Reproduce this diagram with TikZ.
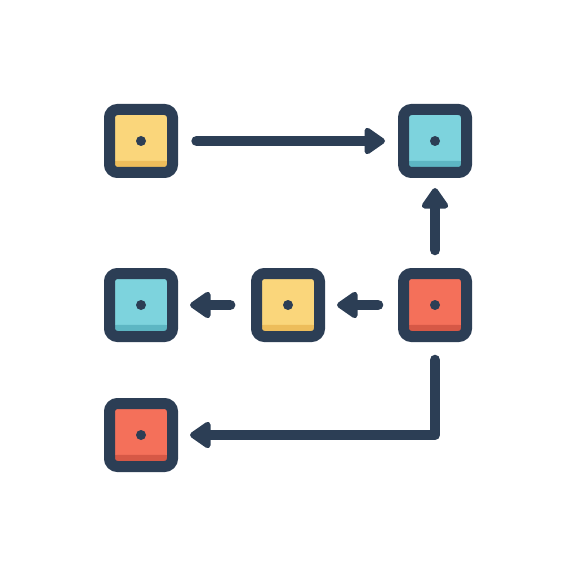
\documentclass[tikz,border=0pt]{standalone}
\usepackage{xcolor}
\usepackage{tikz}
\usetikzlibrary{arrows.meta,positioning}
\definecolor{navy}{HTML}{2C3E55}
\definecolor{yellow}{HTML}{FAD67B}
\definecolor{yellowdark}{HTML}{EDBD5B}
\definecolor{cyan}{HTML}{7DD3DD}
\definecolor{cyandark}{HTML}{5DB6C3}
\definecolor{red}{HTML}{F4705A}
\definecolor{reddark}{HTML}{D65846}
\tikzset{
  tile/.style={
    draw=navy, line width=3.85mm, rounded corners=2.8mm,
    minimum size=22.05mm, inner sep=0pt,
    path picture={
      \fill[#1dark] (path picture bounding box.south west) rectangle ([yshift=4.1mm]path picture bounding box.south east);
      \fill[navy] (path picture bounding box.center) circle (1.75mm);
    }
  },
  yellowtile/.style={tile=yellow, fill=yellow},
  cyantile/.style={tile=cyan, fill=cyan},
  redtile/.style={tile=red, fill=red},
  flow/.style={-{Triangle[length=8mm,width=10.5mm,line width=2.5mm,round]}, draw=navy, line width=3.7mm, line cap=round, line join=round}
}
\begin{document}
\begin{tikzpicture}[node distance=31.5mm and 25.55mm]
  \fill[white] (0,0) rectangle (201.6mm,-201.6mm);
  \node[yellowtile] (start) at (49.35mm,-49.35mm) {};
  \node[cyantile, right=77mm of start] (goal) {};
  \node[redtile, below=of goal] (turn) {};
  \node[yellowtile, left=of turn] (mid) {};
  \node[cyantile, left=of mid] (left) {};
  \node[redtile, below=19.6mm of left] (last) {};

  \draw[flow, shorten <=6.5mm, shorten >=4.55mm] (start.east) -- (goal.west);
  \draw[flow, shorten <=6.3mm, shorten >=3.5mm] (turn.north) -- (goal.south);
  \draw[flow, shorten <=7mm, shorten >=4.2mm] (turn.west) -- (mid.east);
  \draw[flow, shorten <=7.3mm, shorten >=4.2mm] (mid.west) -- (left.east);
  \draw[flow, shorten <=6.3mm, shorten >=4.2mm] (turn.south) |- (last.east);
\end{tikzpicture}
\end{document}
